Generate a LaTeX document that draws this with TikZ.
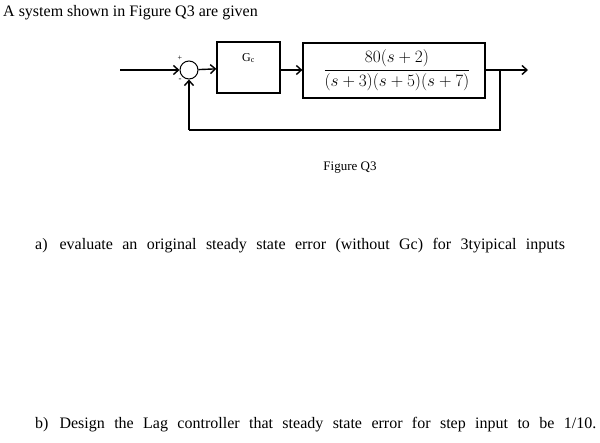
\documentclass[tikz,border=0pt]{standalone}
\usepackage{fontspec}
\setmainfont{Liberation Serif}
\newfontfamily\widefont[WordSpace=2.35]{Liberation Serif}
\usetikzlibrary{arrows.meta}
\begin{document}
\begin{tikzpicture}[x=1pt,y=-1pt,
  blk/.style={draw,line width=1.2pt,inner sep=0pt},
  ln/.style={line width=1.4pt},
  arr/.style={ln,-{Straight Barb[length=5pt,width=9pt]}},
  txt/.style={anchor=west,inner sep=0pt,font=\fontsize{16}{18}\selectfont}]
\useasboundingbox (0,0) rectangle (600,443);
\node[txt] (title) at (3,13) {A system shown in Figure Q3 are given};
\node[draw,line width=1pt,circle,minimum size=18pt,inner sep=0pt] (sum) at (189,70) {};
\node[blk,minimum width=63pt,minimum height=51pt] (gc) at (248.5,67.5) {};
\node[font=\fontsize{12}{14}\selectfont] at (248.5,58) {G\textsubscript{c}};
\node[blk,minimum width=182pt,minimum height=55pt] (g) at (394,70.5) {};
\node[font=\fontsize{19}{21}\selectfont] at (397,70) {$\displaystyle\frac{80(s+2)}{(s+3)(s+5)(s+7)}$};
\coordinate (in) at (120,70);
\coordinate (out) at (528,70);
\coordinate (tap) at (500,70);
\coordinate (fb) at (500,130);
\coordinate (fl) at (189,130);
\draw[arr] (in) -- (sum);
\draw[arr] (sum) -- (gc);
\draw[arr] (gc.east |- 70,70) -- (g.west |- 70,70);
\draw[arr] (g.east |- 70,70) -- (out);
\draw[ln] (tap) -- (fb) -- (fl);
\draw[arr] (fl) -- (sum);
\node[font=\fontsize{8}{9}\selectfont] at (180,58) {+};
\node[font=\fontsize{9}{9}\selectfont] at (180,80) {-};
\node[anchor=center,inner sep=0pt,font=\fontsize{13}{15}\selectfont] (fig) at (350,168) {Figure Q3};
\node[txt] (a) at (35,246) {\widefont a)\hspace{12pt}evaluate an original steady state error (without Gc) for 3tyipical inputs};
\node[txt] (b) at (35,425) {\widefont b)\hspace{11pt}Design the Lag controller that steady state error for step input to be 1/10.};
\end{tikzpicture}
\end{document}
